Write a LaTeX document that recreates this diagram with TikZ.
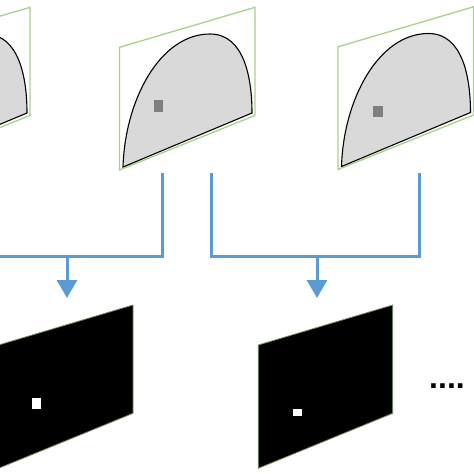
\documentclass[tikz,border=0pt]{standalone}
\usepackage{fontspec}
\setmainfont{Liberation Sans}
\usetikzlibrary{arrows.meta}
\definecolor{framegreen}{HTML}{A9D18E}
\definecolor{shapegray}{HTML}{D9D9D9}
\definecolor{markgray}{HTML}{7F7F7F}
\definecolor{flowblue}{HTML}{5B9BD5}
\tikzset{
  topframe/.style={draw=framegreen, line width=1.3pt, fill=white},
  blob/.style={draw=black, line width=1.1pt, fill=shapegray},
  botframe/.style={draw=framegreen!70!black, line width=0.8pt, fill=black},
  flowline/.style={draw=flowblue, line width=3pt, line join=miter},
  flowarrow/.style={draw=flowblue, line width=3pt, -{Triangle[width=20pt,length=18pt]}},
}
\newcommand{\toppanel}{%
  \path[topframe] (119.5,47.3) -- (255,7.3) -- (255,115.5) -- (119.5,170) -- cycle;
  \path[blob] (123,167) .. controls (125,100) and (160,34) .. (210,34)
     .. controls (245,34) and (252,80) .. (252,113) -- cycle;
}
\begin{document}
\begin{tikzpicture}[x=1pt,y=-1pt]
\useasboundingbox (0,0) rectangle (474,474);
\clip (0,0) rectangle (474,474);
% top panels
\begin{scope}[xshift=-225pt]\toppanel\end{scope}
\begin{scope}\toppanel\end{scope}
\begin{scope}[xshift=218.5pt,yshift=0.5pt]\toppanel\end{scope}
\fill[markgray] (154,100) rectangle (163,112);
\fill[markgray] (373,106) rectangle (383,117);
% bottom panels
\path[botframe] (-1.4,345) -- (133,305) -- (133,413.3) -- (-1.4,468.3) -- cycle;
\path[botframe] (258.3,345) -- (392.7,305) -- (392.7,413.3) -- (258.3,468.3) -- cycle;
\fill[white] (32,398) rectangle (41,409);
\fill[white] (293,409) rectangle (302,416);
% connector points
\coordinate (p1b) at (-30,173);
\coordinate (p2b) at (162,173);
\coordinate (p2c) at (211.5,173);
\coordinate (p3b) at (419,173);
\coordinate (j1) at (67,256.5);
\coordinate (j2) at (317,256.5);
\coordinate (b1t) at (67,298);
\coordinate (b2t) at (317,298);
% connectors
\draw[flowline] (p1b) |- (j1) -| (p2b);
\draw[flowline] (p2c) |- (j2) -| (p3b);
\draw[flowarrow] (j1) -- (b1t);
\draw[flowarrow] (j2) -- (b2t);
% continuation dots
\node[inner sep=0pt, font=\fontsize{32}{32}\selectfont\bfseries] (dots) at (447,386.5) {....};
\end{tikzpicture}
\end{document}
